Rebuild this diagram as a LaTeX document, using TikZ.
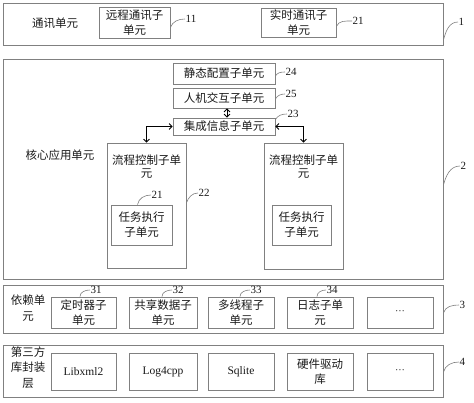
\documentclass[tikz,border=0pt]{standalone}
\usepackage{fontspec}
\setmainfont{Liberation Serif}
\newfontfamily\cjk{Noto Sans CJK SC}
\usetikzlibrary{arrows.meta,positioning}
\definecolor{boxgray}{RGB}{128,128,128}
\definecolor{txtdark}{RGB}{25,25,25}
\tikzset{
  unitbox/.style={draw=boxgray,line width=0.9pt,minimum width=440pt,inner sep=0pt},
  subbox/.style={draw=boxgray,line width=0.8pt,align=center,inner sep=1pt,text=txtdark,
                 font=\cjk\fontsize{11.5}{15}\selectfont},
  latin/.style={font=\fontsize{11.5}{14}\selectfont},
  dots/.style={font=\fontsize{10}{12}\selectfont},
  utext/.style={align=center,inner sep=0pt,text=txtdark,font=\cjk\fontsize{11.5}{15.5}\selectfont},
  numlbl/.style={anchor=west,inner sep=0.5pt,text=txtdark,font=\fontsize{11}{12}\selectfont},
  leader/.style={draw=boxgray,line width=0.6pt},
  dblarrow/.style={{Straight Barb[length=3pt]}-{Straight Barb[length=3pt]},line width=0.8pt,black},
}

\begin{document}
\begin{tikzpicture}[x=1pt,y=-1pt]
  \useasboundingbox (0,0) rectangle (474,402);

  % communication unit
  \node[unitbox,minimum height=42pt] (comm) at (223,24) {};
  \node[utext] (commtxt) at (55,23) {通讯单元};
  \node[subbox,minimum width=71pt,minimum height=31pt] (remote) at (134.5,22.5) {远程通讯子\\单元};
  \node[subbox,minimum width=75pt,minimum height=29pt] (realtime) at (298.5,22.5) {实时通讯子\\单元};
  \node[numlbl] (n11) at (185,19) {11};
  \draw[leader] ([yshift=-5pt]remote.east) to[out=70,in=180] (n11.west);
  \node[numlbl] (n21a) at (352,21) {21};
  \draw[leader] ([yshift=-4pt]realtime.east) to[out=70,in=180] (n21a.west);
  \node[numlbl] (n1) at (458,22) {1};
  \draw[leader] ([yshift=-16pt]comm.east) to[out=75,in=180] (n1.west);

  % core application unit
  \node[unitbox,minimum height=220pt] (core) at (223,169) {};
  \node[utext] (coretxt) at (60,155) {核心应用单元};
  \node[subbox,minimum width=102pt,minimum height=21pt] (static) at (224,73.5) {静态配置子单元};
  \node[subbox,minimum width=102pt,minimum height=20pt] (hmi) at (224,98) {人机交互子单元};
  \node[subbox,minimum width=102pt,minimum height=17pt] (integ) at (224,126.5) {集成信息子单元};
  \node[numlbl] (n24) at (285,72) {24};
  \draw[leader] ([yshift=-2.5pt]static.east) to[out=60,in=180] (n24.west);
  \node[numlbl] (n25) at (285,94) {25};
  \draw[leader] ([yshift=-1pt]hmi.east) to[out=60,in=180] (n25.west);
  \node[numlbl] (n23) at (287,114) {23};
  \draw[leader] ([yshift=-2pt]integ.north east) to[out=60,in=180] (n23.west);

  \node[subbox,minimum width=79pt,minimum height=125pt] (flowL) at (146.5,205.5) {};
  \node[subbox,minimum width=79pt,minimum height=126pt] (flowR) at (303.5,206) {};
  \node[utext,font=\cjk\fontsize{11.5}{13.5}\selectfont,below=12pt of flowL.north] (flowLtxt) {流程控制子单\\元};
  \node[utext,font=\cjk\fontsize{11.5}{13.5}\selectfont,below=12pt of flowR.north] (flowRtxt) {流程控制子单\\元};
  \node[subbox,minimum width=61pt,minimum height=40pt] (taskL) at (141.5,225) {任务执行\\子单元};
  \node[subbox,minimum width=59pt,minimum height=40pt] (taskR) at (301.5,225) {任务执行\\子单元};
  \node[numlbl] (n21b) at (151,195) {21};
  \draw[leader] ([xshift=-4pt]taskL.north) to[out=80,in=180] (n21b.west);
  \node[numlbl] (n22) at (198,193) {22};
  \draw[leader] ([yshift=2.5pt]flowL.east) to[out=70,in=180] (n22.west);
  \node[numlbl] (n2) at (460,166) {2};
  \draw[leader] ([yshift=-16pt]core.east) to[out=75,in=180] (n2.west);

  \draw[dblarrow] ([xshift=3pt]hmi.south) -- ([xshift=3pt]integ.north);
  \draw[dblarrow] (integ.west) -| (flowL.north);
  \draw[dblarrow] (integ.east) -| (flowR.north);

  % dependency unit
  \node[unitbox,minimum height=48pt] (dep) at (223,309) {};
  \node[utext,font=\cjk\fontsize{11.5}{16}\selectfont] (deptxt) at (28,308) {依赖单\\元};
  \node[subbox,minimum width=65pt,minimum height=31pt] (timer) at (83.5,312.5) {定时器子\\单元};
  \node[subbox,minimum width=68pt,minimum height=31pt] (shared) at (163,312.5) {共享数据子\\单元};
  \node[subbox,minimum width=66pt,minimum height=31pt] (thread) at (241,312.5) {多线程子\\单元};
  \node[subbox,minimum width=66pt,minimum height=31pt] (log) at (320,312.5) {日志子单\\元};
  \node[subbox,dots,minimum width=66pt,minimum height=31pt] (depmore) at (400,312.5) {\textperiodcentered\textperiodcentered\textperiodcentered};
  \node[numlbl] (n31) at (90,290) {31};
  \draw[leader] ([xshift=-3.5pt]timer.north) to[out=90,in=180] (n31.west);
  \node[numlbl] (n32) at (172,290) {32};
  \draw[leader] ([xshift=-1pt]shared.north) to[out=90,in=180] (n32.west);
  \node[numlbl] (n33) at (250,290) {33};
  \draw[leader] ([xshift=-1pt]thread.north) to[out=90,in=180] (n33.west);
  \node[numlbl] (n34) at (326,290) {34};
  \draw[leader] ([xshift=-3pt]log.north) to[out=90,in=180] (n34.west);
  \node[numlbl] (n3) at (459,305) {3};
  \draw[leader] ([yshift=-4pt]dep.east) to[out=75,in=180] (n3.west);

  % third-party library wrapper layer
  \node[unitbox,minimum height=52pt] (lib) at (223,371) {};
  \node[utext] (libtxt) at (28,367.5) {第三方\\库封装\\层};
  \node[subbox,latin,minimum width=65pt,minimum height=37pt] (xml) at (83.5,371.5) {Libxml2};
  \node[subbox,latin,minimum width=68pt,minimum height=37pt] (logcpp) at (163,371.5) {Log4cpp};
  \node[subbox,latin,minimum width=66pt,minimum height=37pt] (sqlite) at (241,371.5) {Sqlite};
  \node[subbox,minimum width=66pt,minimum height=37pt] (hwdrv) at (320,371.5) {硬件驱动\\库};
  \node[subbox,dots,minimum width=66pt,minimum height=37pt] (libmore) at (400,371.5) {\textperiodcentered\textperiodcentered\textperiodcentered};
  \node[numlbl] (n4) at (459,362) {4};
  \draw[leader] ([yshift=-1pt]lib.east) to[out=75,in=180] (n4.west);
\end{tikzpicture}
\end{document}
